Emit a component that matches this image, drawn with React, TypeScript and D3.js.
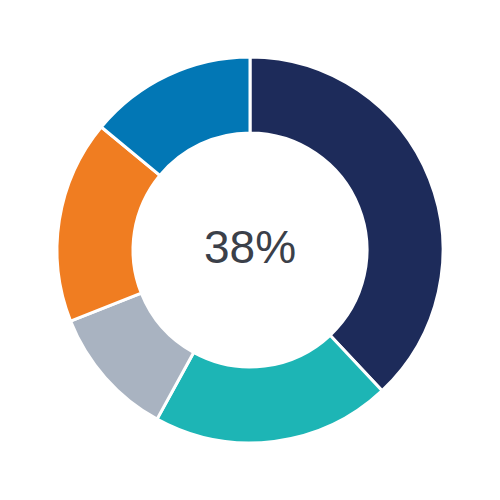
import * as d3 from 'd3';
import { useEffect, useRef } from 'react';

const categories = ['Segment A', 'Segment B', 'Segment C', 'Segment D', 'Segment E'];
const values = [38, 20, 11, 17, 14];
const colors = ['#1d2b5a', '#1db5b5', '#a9b3c1', '#f07d21', '#0277b5'];
const centerLabel = '38%';

interface Slice {
  name: string;
  value: number;
  color: string;
}

const data: Slice[] = categories.map((name, i) => ({
  name,
  value: values[i],
  color: colors[i],
}));

export default function App() {
  const svgRef = useRef<SVGSVGElement>(null);

  useEffect(() => {
    if (!svgRef.current) return;
    const svg = d3.select(svgRef.current);
    svg.selectAll('*').remove();

    const size = 500;
    const outer = 193;
    const inner = 117;

    const g = svg.append('g').attr('transform', `translate(${size / 2},${size / 2})`);

    const pie = d3.pie<Slice>().value((d) => d.value).sort(null);
    const arc = d3.arc<d3.PieArcDatum<Slice>>().innerRadius(inner).outerRadius(outer);

    g.selectAll('path')
      .data(pie(data))
      .join('path')
      .attr('d', arc)
      .attr('fill', (d) => d.data.color)
      .attr('stroke', '#ffffff')
      .attr('stroke-width', 3);

    // Center label
    g.append('text')
      .attr('text-anchor', 'middle')
      .attr('dy', '0.29em')
      .attr('fill', '#3b4049')
      .attr('font-family', '"Liberation Sans", Arial, sans-serif')
      .attr('font-size', '46px')
      .text(centerLabel);
  }, []);

  return (
    <svg
      ref={svgRef}
      width={500}
      height={500}
      style={{ position: 'absolute', left: 0, top: 0, background: '#fff' }}
    />
  );
}
